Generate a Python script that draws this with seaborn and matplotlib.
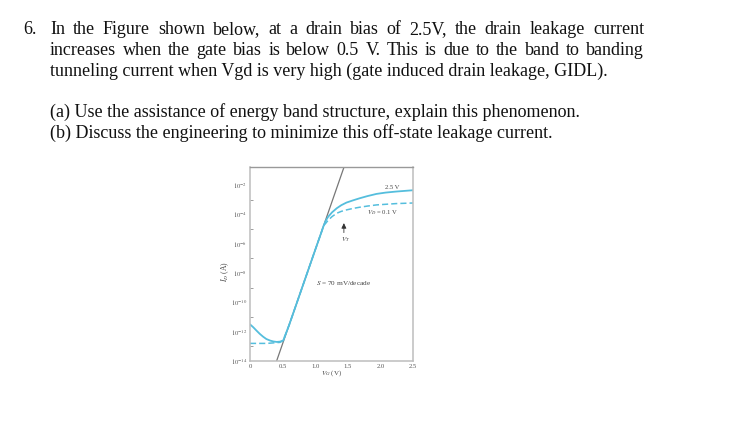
import matplotlib
matplotlib.use("Agg")
import matplotlib.pyplot as plt
import pandas as pd
import seaborn as sns

sns.set_theme(style="white")
plt.rcParams["font.family"] = ["Liberation Serif", "DejaVu Serif"]
plt.rcParams["mathtext.fontset"] = "stix"

# Values
vg_25 = [0, .05, .10, .15, .20, .25, .31, .36, .41, .46, .51, .60, .80, 1.00, 1.10, 1.13, 1.16, 1.20, 1.26, 1.33, 1.40, 1.48, 1.58, 1.68, 1.80, 1.94, 2.08, 2.24, 2.50]
log_id_25 = [-11.5, -11.7, -11.93, -12.15, -12.34, -12.5, -12.61, -12.67, -12.70, -12.68, -12.6, -11.55, -8.99, -6.43, -5.16, -4.77, -4.45, -4.16, -3.86, -3.59, -3.38, -3.20, -3.05, -2.91, -2.76, -2.61, -2.52, -2.45, -2.36]
vg_01 = [0, .26, .46, .51, .60, .80, 1.00, 1.10, 1.13, 1.16, 1.20, 1.26, 1.33, 1.40, 1.48, 1.58, 1.68, 1.80, 1.94, 2.24, 2.50]
log_id_01 = [-12.8, -12.8, -12.73, -12.6, -11.55, -8.99, -6.43, -5.16, -4.77, -4.62, -4.4, -4.15, -3.93, -3.80, -3.70, -3.60, -3.52, -3.44, -3.36, -3.27, -3.23]
vg_ideal = [0.408, 1.442]
log_id_ideal = [-14, -0.78]
x_ticks = [0, 0.5, 1.0, 1.5, 2.0, 2.5]
x_tick_labels = ["0", "0.5", "1.0", "1.5", "2.0", "2.5"]
y_major = [1e-14, 1e-12, 1e-10, 1e-8, 1e-6, 1e-4, 1e-2]
y_minor = [1e-13, 1e-11, 1e-9, 1e-7, 1e-5, 1e-3]
y_tick_labels = ["$10^{-14}$", "$10^{-12}$", "$10^{-10}$", "$10^{-8}$", "$10^{-6}$", "$10^{-4}$", "$10^{-2}$"]

question_lines = [
    "In the Figure shown below, at a drain bias of 2.5V, the drain leakage current",
    "increases when the gate bias is below 0.5 V. This is due to the band to banding",
    "tunneling current when Vgd is very high (gate induced drain leakage, GIDL).",
]
part_a = "(a) Use the assistance of energy band structure, explain this phenomenon."
part_b = "(b) Discuss the engineering to minimize this off-state leakage current."

W, H = 737, 421
fig = plt.figure(figsize=(W / 100, H / 100), dpi=100, facecolor="white")


def fx(px):
    return px / W


def fy(py):
    return 1 - py / H


# Body text
TXT = "#111111"
FS = 12.97
fig.text(fx(23), fy(29.5), "6.", fontsize=FS, color=TXT, va="center")
r = fig.canvas.get_renderer()


def justified(line, x0, x1, y):
    words = line.split(" ")
    items = [fig.text(fx(x0), fy(y), w, fontsize=FS, color=TXT, va="baseline") for w in words]
    widths = [t.get_window_extent(r).width for t in items]
    gap = (x1 - x0 - sum(widths)) / (len(words) - 1)
    x = x0
    for t, w in zip(items, widths):
        t.set_x(fx(x))
        x += w + gap


justified(question_lines[0], 50, 644, 34)
justified(question_lines[1], 50, 644, 55)
fig.text(fx(50), fy(76), question_lines[2], fontsize=FS, color=TXT, va="baseline")
fig.text(fx(50), fy(117), part_a, fontsize=FS, color=TXT, va="baseline")
fig.text(fx(50), fy(138), part_b, fontsize=FS, color=TXT, va="baseline")

# Chart
ax = fig.add_axes([fx(250), fy(361), fx(163), (361 - 167) / H])
BLUE = "#55BEDD"
df_25 = pd.DataFrame({"vg": vg_25, "id": [10.0 ** v for v in log_id_25]})
df_01 = pd.DataFrame({"vg": vg_01, "id": [10.0 ** v for v in log_id_01]})
df_ideal = pd.DataFrame({"vg": vg_ideal, "id": [10.0 ** v for v in log_id_ideal]})
sns.lineplot(data=df_ideal, x="vg", y="id", ax=ax, color="#777777", lw=0.9, estimator=None, sort=False)
sns.lineplot(data=df_01, x="vg", y="id", ax=ax, color=BLUE, lw=1.1, ls=(0, (4, 2)), estimator=None, sort=False)
sns.lineplot(data=df_25, x="vg", y="id", ax=ax, color=BLUE, lw=1.3, estimator=None, sort=False)

ax.set_yscale("log")
ax.set_xlim(0, 2.5)
ax.set_ylim(1e-14, 10 ** (-14 + 194 / 14.67))
ax.set_xticks(x_ticks, x_tick_labels)
ax.set_yticks(y_major, y_tick_labels)
ax.set_yticks(y_minor, [""] * len(y_minor), minor=True)
ax.tick_params(axis="both", which="major", direction="in", length=3, width=0.5, color="#777777",
               labelsize=4.8, labelcolor="#555555", pad=2)
ax.tick_params(axis="y", which="minor", direction="in", length=2, width=0.5, color="#777777", left=True)
ax.tick_params(axis="x", which="minor", bottom=False)
for side in ["left", "bottom", "right"]:
    ax.spines[side].set_color("#BDBDBD")
    ax.spines[side].set_linewidth(1.1)
ax.spines["top"].set_color("#999999")
ax.spines["top"].set_linewidth(1.0)
ax.set_xlabel("$V_G$ (V)", fontsize=5, color="#444444", labelpad=0)
ax.set_ylabel("$I_D$ (A)", fontsize=5.5, color="#444444", labelpad=0, y=0.46)

ANN = "#444444"
ax.text(2.18, 10 ** -2.15, "2.5 V", fontsize=4.8, color=ANN, ha="center", va="center")
ax.text(2.04, 10 ** -3.85, "$V_D$ = 0.1 V", fontsize=4.8, color=ANN, ha="center", va="center")
ax.text(1.47, 10 ** -5.75, "$V_T$", fontsize=5, color=ANN, ha="center", va="center")
ax.text(1.43, 10 ** -8.7, "$S$ = 70 mV/decade", fontsize=5.2, color=ANN, ha="center", va="center")
ax.annotate("", xy=(1.44, 10 ** -4.6), xytext=(1.44, 10 ** -5.25),
            arrowprops=dict(arrowstyle="-|>,head_width=0.12,head_length=0.25", color="#333333", lw=0.6, shrinkA=0, shrinkB=0))

fig.savefig("out.png", dpi=100, facecolor="white")
